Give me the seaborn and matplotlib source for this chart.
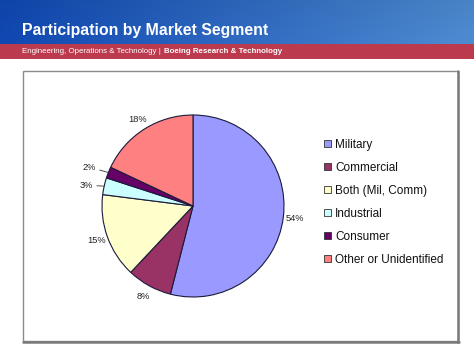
import numpy as np
import matplotlib
matplotlib.use("Agg")
import matplotlib.pyplot as plt
import seaborn as sns
from matplotlib.patches import Rectangle

# ---- data ----
segments = ["Military", "Commercial", "Both (Mil, Comm)", "Industrial",
            "Consumer", "Other or Unidentified"]
shares = [54, 8, 15, 3, 2, 18]
colors = ["#9999FF", "#993366", "#FFFFCC", "#CCFFFF", "#660066", "#FF8080"]
title = "Participation by Market Segment"
subtitle_left = "Engineering, Operations & Technology | "
subtitle_right = "Boeing Research & Technology"

sns.set_theme(style="white")
plt.rcParams["font.family"] = ["Liberation Sans", "DejaVu Sans"]

W, H = 474, 355
fig = plt.figure(figsize=(W / 100, H / 100), dpi=100)
fig.patch.set_facecolor("white")

# ---- header ----
bg = fig.add_axes([0, 0, 1, 1], zorder=0)
bg.set_xlim(0, W)
bg.set_ylim(H, 0)
bg.axis("off")
grad = np.linspace(0, 1, 256)
c0 = np.array([16, 72, 178]) / 255
c1 = np.array([78, 140, 210]) / 255
img = (c0[None, :] * (1 - grad[:, None]) + c1[None, :] * grad[:, None])[None, :, :]
vert = np.linspace(0.94, 1.0, 20)[:, None, None]
img = np.clip(img * vert, 0, 1)
bg.imshow(img, extent=[0, W, 44, 0], aspect="auto", zorder=1)
bg.add_patch(Rectangle((0, 44), W, 14.5, facecolor="#BC3A4E", edgecolor="none", zorder=2))
bg.text(22, 30, title, color="white", fontsize=11.4, fontweight="bold",
        va="center", ha="left", zorder=3)
t1 = bg.text(22, 51.5, subtitle_left, color="white", fontsize=5.65,
             va="center", ha="left", zorder=3)
fig.canvas.draw()
bb = t1.get_window_extent()
bg.text(bb.x1 + 1, 51.5, subtitle_right, color="white", fontsize=5.65, fontweight="bold",
        va="center", ha="left", zorder=3)

# ---- frame ----
bg.add_patch(Rectangle((23, 71), 435, 270, facecolor="none", edgecolor="#8A8A8A",
                       lw=1.0, zorder=2))
bg.plot([458.5, 458.5], [71, 342], color="#7A7A7A", lw=1.8, zorder=2)
bg.plot([23, 459], [341.5, 341.5], color="#7A7A7A", lw=1.8, zorder=2)

# ---- pie ----
cx, cy, r = 193, 206, 91
ax = fig.add_axes([(cx - r) / W, (H - cy - r) / H, 2 * r / W, 2 * r / H], zorder=2)
wedges, _ = ax.pie(shares, colors=colors, startangle=90, counterclock=False,
                   wedgeprops=dict(edgecolor="#1a1a3a", linewidth=0.8))
ax.set_xlim(-1, 1)
ax.set_ylim(-1, 1)
ax.set_aspect("equal")
ax.axis("off")

for w, v in zip(wedges, shares):
    ang = np.deg2rad((w.theta1 + w.theta2) / 2)
    x, y = np.cos(ang), np.sin(ang)
    lab = f"{v}%"
    if v <= 3:
        tx = -1.07 if v == 2 else -1.10
        ty = y + (0.06 if v == 2 else 0.01)
        ax.annotate(lab, xy=(x, y), xytext=(tx, ty), ha="right", va="center",
                    fontsize=6.7, color="#222222",
                    arrowprops=dict(arrowstyle="-", color="#333333", lw=0.6,
                                    shrinkA=0.5, shrinkB=0))
    else:
        d = 1.13
        ax.text(d * x, d * y, lab, ha="center", va="center", fontsize=6.7,
                color="#222222")

# ---- legend ----
leg = fig.legend(wedges, segments, loc="upper left",
                 bbox_to_anchor=(318 / W, 1 - 133 / H), frameon=False,
                 fontsize=8.5, handlelength=0.6, handleheight=0.6,
                 handletextpad=0.35, labelspacing=0.93, borderpad=0)
for t in leg.get_texts():
    t.set_color("#111111")
for h in leg.legend_handles:
    h.set_edgecolor("#333333")
    h.set_linewidth(0.6)

fig.savefig("out.png", dpi=100)
